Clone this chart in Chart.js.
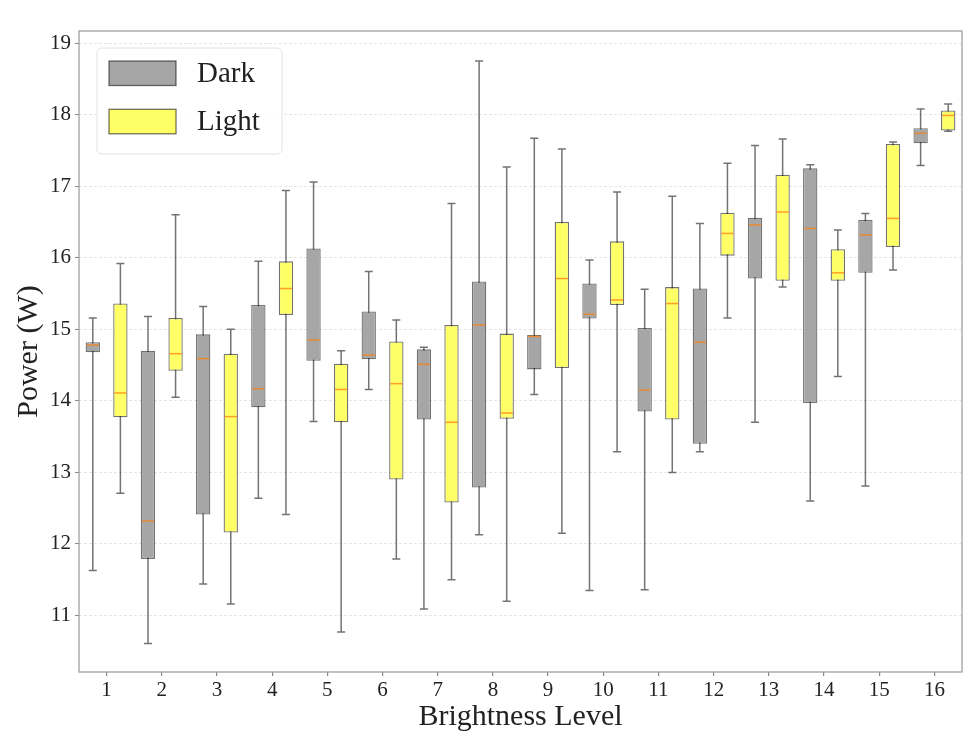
<!DOCTYPE html>
<html>
<head>
<meta charset="utf-8">
<title>Power by Brightness Level</title>
<script src="https://cdn.jsdelivr.net/npm/chart.js@4.4.1/dist/chart.umd.min.js"></script>
<style>
  html, body { margin: 0; padding: 0; background: #fff; }
  #wrap { width: 980px; height: 745px; position: relative; }
</style>
</head>
<body>
<div id="wrap"><canvas id="powerChart"></canvas></div>
<script>
// x categories and y tick values
const levels = ['1', '2', '3', '4', '5', '6', '7', '8', '9', '10', '11', '12', '13', '14', '15', '16'];
const yTicks = [11, 12, 13, 14, 15, 16, 17, 18, 19];

// Dark theme: five number summary per brightness level (W)
const darkMin    = [11.63, 10.61, 11.44, 12.64, 13.71, 14.16, 11.09, 12.13, 14.09, 11.35, 11.36, 13.29, 13.70, 12.60, 12.81, 17.29];
const darkQ1     = [14.68, 11.79, 12.41, 13.91, 14.56, 14.58, 13.74, 12.79, 14.44, 15.15, 13.85, 13.40, 15.71, 13.97, 15.79, 17.60];
const darkMedian = [14.78, 12.32, 14.59, 14.17, 14.85, 14.64, 14.51, 15.06, 14.90, 15.21, 14.15, 14.82, 16.46, 16.41, 16.32, 17.74];
const darkQ3     = [14.82, 14.70, 14.93, 15.34, 16.13, 15.25, 14.72, 15.67, 14.92, 15.64, 15.02, 15.57, 16.56, 17.25, 16.53, 17.81];
const darkMax    = [15.16, 15.18, 15.32, 15.95, 17.06, 15.81, 14.75, 18.75, 17.67, 15.97, 15.56, 16.48, 17.57, 17.30, 16.62, 18.08];

// Light theme
const lightMin    = [12.71, 14.05, 11.16, 12.41, 10.77, 11.79, 11.50, 11.20, 12.15, 13.29, 13.00, 15.16, 15.59, 14.34, 15.83, 17.77];
const lightQ1     = [13.77, 14.42, 12.16, 15.20, 13.70, 12.90, 12.58, 13.75, 14.46, 15.34, 13.74, 16.03, 15.68, 15.68, 16.15, 17.78];
const lightMedian = [14.11, 14.66, 13.78, 15.57, 14.16, 14.24, 13.70, 13.83, 15.71, 15.41, 15.36, 16.34, 16.64, 15.79, 16.55, 17.99];
const lightQ3     = [15.36, 15.16, 14.66, 15.95, 14.52, 14.83, 15.06, 14.94, 16.50, 16.23, 15.59, 16.63, 17.16, 16.12, 17.59, 18.06];
const lightMax    = [15.92, 16.60, 15.00, 16.94, 14.70, 15.13, 16.76, 17.27, 17.52, 16.92, 16.86, 17.32, 17.66, 16.39, 17.62, 18.15];

const serif = "'Liberation Serif', 'DejaVu Serif', serif";
const textColor = '#222';
const edgeColor = 'rgba(0,0,0,0.55)';
const medianColor = 'rgba(255,127,14,0.75)';

// box = floating bar from Q1 to Q3
function boxRanges(q1, q3) {
  return q1.map((v, i) => [v, q3[i]]);
}

// whiskers behind the boxes, medians on top
const boxplotParts = {
  id: 'boxplotParts',
  beforeDatasetsDraw(chart) {
    const ctx = chart.ctx;
    const y = chart.scales.y;
    chart.data.datasets.forEach((ds, di) => {
      chart.getDatasetMeta(di).data.forEach((bar, i) => {
        const x = bar.x;
        const cap = bar.width * 0.28;
        const yLo = y.getPixelForValue(ds.whiskerMin[i]);
        const yHi = y.getPixelForValue(ds.whiskerMax[i]);
        ctx.save();
        ctx.strokeStyle = edgeColor;
        ctx.lineWidth = 1.5;
        ctx.beginPath();
        ctx.moveTo(x, yLo); ctx.lineTo(x, yHi);
        ctx.moveTo(x - cap, yLo); ctx.lineTo(x + cap, yLo);
        ctx.moveTo(x - cap, yHi); ctx.lineTo(x + cap, yHi);
        ctx.stroke();
        ctx.restore();
      });
    });
  },
  afterDatasetsDraw(chart) {
    const ctx = chart.ctx;
    const y = chart.scales.y;
    chart.data.datasets.forEach((ds, di) => {
      chart.getDatasetMeta(di).data.forEach((bar, i) => {
        const half = bar.width / 2 - 1;
        const ym = y.getPixelForValue(ds.median[i]);
        ctx.save();
        ctx.strokeStyle = medianColor;
        ctx.lineWidth = 1.5;
        ctx.beginPath();
        ctx.moveTo(bar.x - half, ym); ctx.lineTo(bar.x + half, ym);
        ctx.stroke();
        ctx.restore();
      });
    });
  }
};

// axes frame + legend inside the plot, matplotlib style
const frameAndLegend = {
  id: 'frameAndLegend',
  afterDraw(chart) {
    const ctx = chart.ctx;
    const area = chart.chartArea;
    ctx.save();
    ctx.strokeStyle = '#a0a0a0';
    ctx.lineWidth = 1.3;
    ctx.strokeRect(area.left, area.top, area.right - area.left, area.bottom - area.top);

    const lx = area.left + 18, ly = area.top + 17, lw = 185, lh = 106;
    ctx.beginPath();
    ctx.roundRect(lx, ly, lw, lh, 5);
    ctx.fillStyle = 'rgba(255,255,255,0.85)';
    ctx.fill();
    ctx.strokeStyle = '#e2e2e2';
    ctx.lineWidth = 1;
    ctx.stroke();

    ctx.font = '29px ' + serif;
    ctx.textBaseline = 'middle';
    ctx.fillStyle = textColor;
    chart.data.datasets.forEach((ds, di) => {
      const sy = ly + 13 + di * 48.3;
      ctx.fillStyle = ds.backgroundColor;
      ctx.fillRect(lx + 12, sy, 67, 24.5);
      ctx.strokeStyle = ds.borderColor;
      ctx.lineWidth = 1.3;
      ctx.strokeRect(lx + 12, sy, 67, 24.5);
      ctx.fillStyle = textColor;
      ctx.fillText(ds.label, lx + 100, sy + 13);
    });
    ctx.restore();
  }
};

new Chart(document.getElementById('powerChart'), {
  type: 'bar',
  data: {
    labels: levels,
    datasets: [
      {
        label: 'Dark',
        data: boxRanges(darkQ1, darkQ3),
        whiskerMin: darkMin, whiskerMax: darkMax, median: darkMedian,
        backgroundColor: '#a6a6a6',
        borderColor: edgeColor,
        borderWidth: 1.3,
        borderSkipped: false
      },
      {
        label: 'Light',
        data: boxRanges(lightQ1, lightQ3),
        whiskerMin: lightMin, whiskerMax: lightMax, median: lightMedian,
        backgroundColor: '#ffff66',
        borderColor: edgeColor,
        borderWidth: 1.3,
        borderSkipped: false
      }
    ]
  },
  options: {
    responsive: true,
    maintainAspectRatio: false,
    animation: false,
    categoryPercentage: 1.0,
    barPercentage: 0.52,
    layout: { padding: { top: 31, right: 18, left: 0, bottom: 0 } },
    plugins: {
      legend: { display: false },
      tooltip: { enabled: false }
    },
    scales: {
      x: {
        offset: true,
        grid: { offset: false, drawOnChartArea: false, tickLength: 4, tickColor: '#888', lineWidth: 1.2 },
        border: { display: false },
        ticks: { font: { family: serif, size: 21 }, color: textColor, padding: 2, maxRotation: 0 },
        title: {
          display: true, text: 'Brightness Level', color: textColor,
          font: { family: serif, size: 30, lineHeight: 1.2 },
          padding: { top: 0, bottom: 10 }
        },
        afterFit(scale) { scale.height = 73; }
      },
      y: {
        min: 10.21,
        max: 19.17,
        afterBuildTicks(scale) { scale.ticks = yTicks.map(v => ({ value: v })); },
        grid: { color: '#e6e6e6', lineWidth: 1, tickLength: 4, tickColor: '#888' },
        border: { display: false, dash: [3, 2] },
        ticks: { font: { family: serif, size: 21 }, color: textColor, padding: 4 },
        title: {
          display: true, text: 'Power (W)', color: textColor,
          font: { family: serif, size: 30, lineHeight: 1.2 },
          padding: { top: 11, bottom: 0 }
        },
        afterFit(scale) { scale.width = 79; }
      }
    }
  },
  plugins: [boxplotParts, frameAndLegend]
});
</script>
</body>
</html>
